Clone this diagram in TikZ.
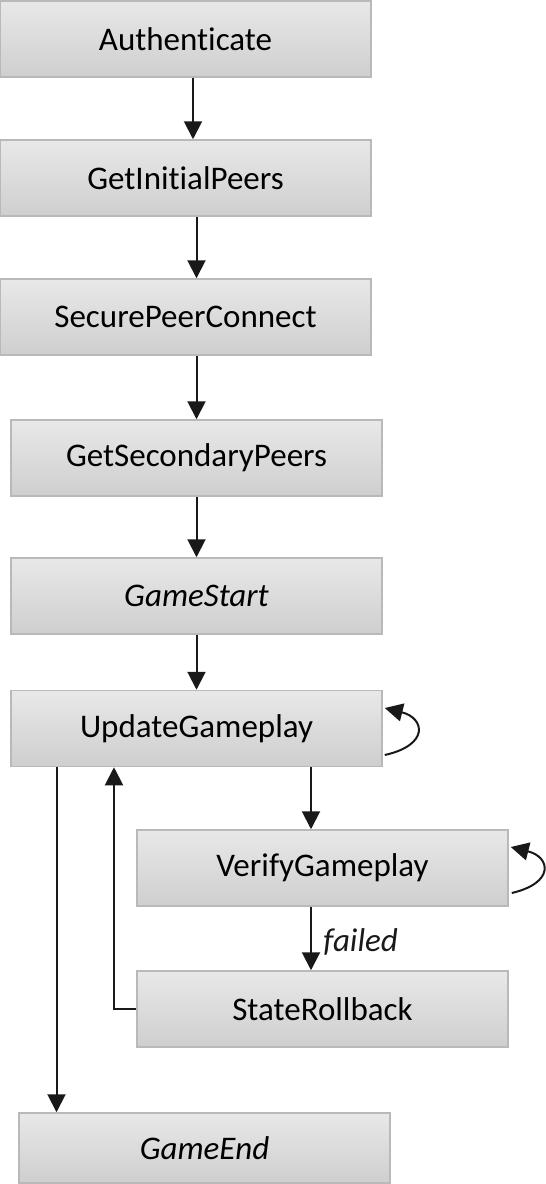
\documentclass[tikz,border=0pt]{standalone}
\usepackage{fontspec}
\setmainfont[Ligatures=NoCommon]{Carlito}
\usetikzlibrary{arrows.meta,positioning}

\begin{document}
\begin{tikzpicture}[x=1pt,y=-1pt,line width=2pt,
    box/.style={draw=gray!55,line width=1.5pt,top color=gray!18,bottom color=gray!38,
      minimum width=371pt,minimum height=76pt,inner sep=0pt,
      font=\fontsize{33}{39}\selectfont},
    arr/.style={-{Triangle[length=18pt,width=18pt]},black!90}]
    \useasboundingbox (0,0) rectangle (546,1184);
    \node [box] (auth) at (185.5,39) {Authenticate};
    \node [box] (initpeers) at (185.5,178) {GetInitialPeers};
    \node [box] (secure) at (185.5,317) {SecurePeerConnect};
    \node [box] (secpeers) at (196.5,458) {GetSecondaryPeers};
    \node [box] (start) at (196.5,596) {\itshape GameStart};
    \node [box] (update) at (196.5,728.5) {UpdateGameplay};
    \node [box] (verify) at (322.5,868) {VerifyGameplay};
    \node [box] (rollback) at (322.5,1009) {StateRollback};
    \node [box,minimum height=70pt] (gameend) at (204.5,1148) {\itshape GameEnd};
    \coordinate (verifyin) at ([xshift=-11.5]verify.north);
    \coordinate (backin) at ([xshift=-82.5]update.south);
    \coordinate (endout) at ([xshift=-140]update.south);
    \draw [arr] ([xshift=7.5]auth.south) -- ([xshift=7.5]initpeers.north);
    \draw [arr] (initpeers.south -| secpeers.north) -- (secure.north -| secpeers.north);
    \draw [arr] (secure.south -| secpeers.north) -- (secpeers.north);
    \draw [arr] (secpeers) -- (start);
    \draw [arr] (start) -- (update);
    \draw [arr] (update.south -| verifyin) -- (verifyin);
    \draw [arr] (verify.south -| verifyin) -- (rollback.north -| verifyin)
      node [midway,right=8pt,yshift=-3pt,font=\fontsize{33}{39}\selectfont\itshape] {failed};
    \draw [arr] (rollback.west) -| (backin);
    \draw [arr] (endout) -- (gameend.north -| endout);
    % self loops
    \draw [arr] ([shift={(2,26.5)}]update.east) .. controls +(45,-10) and +(40,10) .. ([shift={(2,-20.5)}]update.east);
    \draw [arr] ([shift={(3,25)}]verify.east) .. controls +(43,-10) and +(40,10) .. ([shift={(2,-21)}]verify.east);
\end{tikzpicture}
\end{document}
